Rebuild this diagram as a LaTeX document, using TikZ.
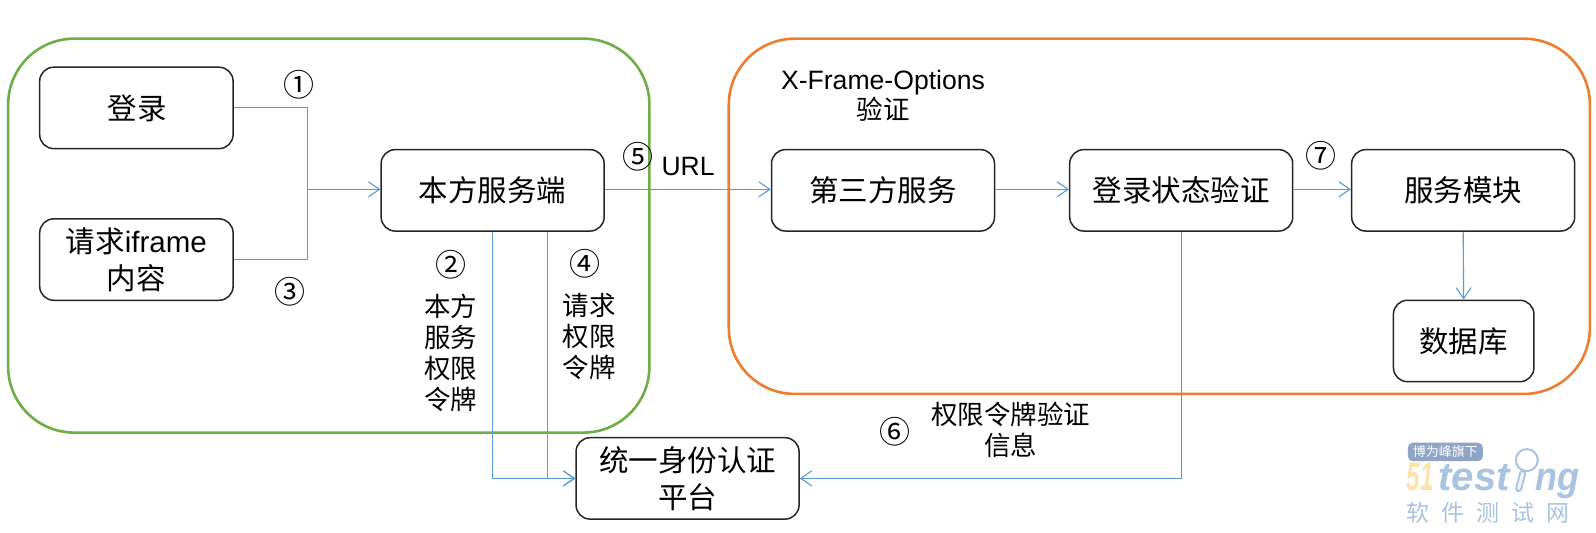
\documentclass[tikz,border=0pt]{standalone}
\usepackage{fontspec}
\setmainfont{Liberation Sans}
\newfontfamily\cjk{Noto Sans CJK SC}
\usetikzlibrary{arrows.meta}
\definecolor{linkblue}{HTML}{5B9BD5}
\definecolor{groupgreen}{HTML}{70AD47}
\definecolor{grouporange}{HTML}{ED7D31}
\definecolor{wmblue}{HTML}{A9C3E0}
\definecolor{wmdark}{HTML}{8FA5C5}
\definecolor{wmyellow}{HTML}{FCE4A8}
\newcommand{\mainsize}{\fontsize{29.5}{37}\selectfont\cjk}
\newcommand{\smallsize}{\fontsize{26.5}{31}\selectfont\cjk}
\tikzset{
  x=1.01786pt,y=-1.01786pt,
  boxnode/.style={draw=black!85,line width=1.5pt,rounded corners=14pt,fill=white,inner sep=0pt,align=center,font=\mainsize},
  group/.style={line width=2.6pt,rounded corners=66pt},
  link/.style={draw=linkblue,line width=1.1pt,-{Straight Barb[length=11pt,width=15pt,line width=1.1pt]}},
  plain/.style={draw=linkblue,line width=1.1pt},
  lab/.style={inner sep=0pt,align=center,font=\smallsize},
  num/.style={inner sep=0pt,font=\fontsize{31}{32}\selectfont\cjk},
  wmtext/.style={inner sep=0pt,anchor=base west,font=\fontsize{40}{41}\selectfont\bfseries\itshape},
}
\begin{document}
\begin{tikzpicture}
\useasboundingbox (0,0) rectangle (1568,523);
\fill[white] (0,0) rectangle (1568,523);
\draw[group,draw=groupgreen] (8,38) rectangle (638,425);
\draw[group,draw=grouporange] (716,38) rectangle (1562,387);
% watermark
\node[inner sep=0pt,fill=wmdark,rounded corners=5pt,minimum width=75pt,minimum height=18.5pt,text=white,font=\fontsize{13}{14}\selectfont\cjk] (wmbadge) at (1420,444) {博为峰旗下};
\node[inner sep=0pt,text=wmblue,font=\fontsize{23}{24}\selectfont\cjk,anchor=west] (wmcn) at (1382,503.5) {软\hspace{12pt}件\hspace{12pt}测\hspace{12pt}试\hspace{12pt}网};
\node[wmtext,text=wmyellow,xscale=.6] (wmfive) at (1382,482) {51};
\node[wmtext,text=wmblue] (wmtest) at (1413,482) {test};
\node[wmtext,text=wmblue,xscale=.9] (wmng) at (1508,482) {ng};
\draw[wmblue,line width=7pt,line cap=round] (1496,465) -- (1492,480);
\draw[white!85!wmblue,line width=3pt,line cap=round] (1496,465) -- (1492,480);
\node[draw=wmblue,fill=white,line width=2pt,circle,inner sep=0pt,minimum size=22pt] (wmlens) at (1500,452) {};
% nodes
\node[boxnode,minimum width=193.4pt,minimum height=81.4pt] (login) at (134,106) {\hspace{2pt}登录};
\node[boxnode,minimum width=193.4pt,minimum height=81.4pt] (iframe) at (134,255) {请求{\rmfamily iframe}\\内容};
\node[boxnode,minimum width=223pt,minimum height=81.4pt] (server) at (484,187) {本方服务端};
\node[boxnode,minimum width=223pt,minimum height=81.4pt] (third) at (867.5,187) {第三方服务};
\node[boxnode,minimum width=223pt,minimum height=81.4pt] (state) at (1160.5,187) {登录状态验证};
\node[boxnode,minimum width=223pt,minimum height=81.4pt] (module) at (1437.5,187) {服务模块};
\node[boxnode,minimum width=140.5pt,minimum height=81.4pt] (db) at (1438,335) {数据库};
\node[boxnode,minimum width=223pt,minimum height=81.4pt] (auth) at (675.5,470) {统一身份认证\\平台};
% connectors
\coordinate (merge) at (302,186);
\coordinate (tokA) at (484,470);
\coordinate (tokB) at (538,470);
\coordinate (backc) at (1160.5,470);
\draw[plain] (login.east) -| (merge);
\draw[plain] (iframe.east) -| (merge);
\draw[link,line width=1.6pt] (merge) -- (server.west |- merge);
\draw[link] (server.east |- merge) -- (third.west |- merge);
\draw[link] (third.east |- merge) -- (state.west |- merge);
\draw[link] (state.east |- merge) -- (module.west |- merge);
\draw[link] (module.south) -- (db.north);
\draw[link] (server.south -| tokA) -- (tokA) -- (auth.west |- tokA);
\draw[link] (server.south -| tokB) -- (tokB) -- (auth.west |- tokB);
\draw[link] (state.south) -- (backc) -- (auth.east |- backc);
% labels
\node[num] (n1) at (294,83) {①};
\node[num] (n3) at (285,287) {③};
\node[num] (n2) at (443,260) {②};
\node[num] (n4) at (575,259) {④};
\node[num] (n5) at (627,154) {⑤};
\node[num] (n7) at (1298,153) {⑦};
\node[num] (n6) at (879,424) {⑥};
\node[lab] (l2) at (443,346.5) {本方\\服务\\权限\\令牌};
\node[lab] (l4) at (579,331) {请求\\权限\\令牌};
\node[lab] (lurl) at (676,164) {\fontsize{26.5}{30}\selectfont\rmfamily URL};
\node[lab] (lxfo) at (867.5,94) {\fontsize{26.6}{31}\selectfont\rmfamily X-Frame-Options\\[-1pt]验证};
\node[lab] (l6) at (993,422) {权限令牌验证\\信息};
\end{tikzpicture}
\end{document}
